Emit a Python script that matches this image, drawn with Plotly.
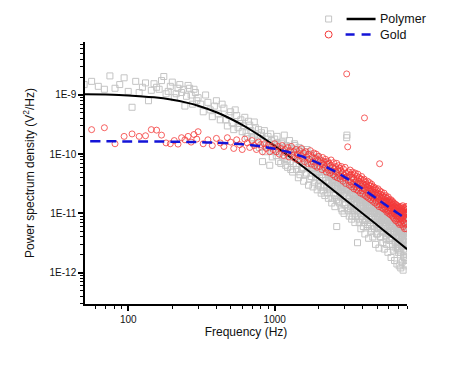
import plotly.graph_objects as go

PV2 = 1e-12  # values below are in pV^2/Hz (1e-12 V^2/Hz)

# shared FFT frequency bins (Hz)
frequency_hz = [
    50, 56.25, 68.75, 81.25, 93.75, 106.25, 118.75, 131.25, 143.75, 156.25, 168.75,
    181.25, 193.75, 206.25, 218.75, 231.25, 243.75, 256.25, 268.75, 281.25, 293.75,
    300, 325, 350, 375, 400, 425, 450, 475, 500, 525, 550, 575, 600, 625, 650, 675,
    700, 725, 750, 775, 800, 825, 850, 875, 900, 925, 950, 975,
    1000, 1025, 1050, 1075, 1100, 1125, 1150, 1175, 1200, 1225, 1250, 1275,
    1300, 1325, 1350, 1375, 1400, 1425, 1450, 1475, 1500, 1525, 1550, 1575,
    1600, 1625, 1650, 1675, 1700, 1725, 1750, 1775, 1800, 1825, 1850, 1875,
    1900, 1925, 1950, 1975, 2000, 2025, 2050, 2075, 2100, 2125, 2150, 2175,
    2200, 2225, 2250, 2275, 2300, 2325, 2350, 2375, 2400, 2425, 2450, 2475,
    2500, 2525, 2550, 2575, 2600, 2625, 2650, 2675, 2700, 2725, 2750, 2775,
    2800, 2825, 2850, 2875, 2900, 2925, 2950, 2975, 3000, 3025, 3050, 3075,
    3100, 3125, 3150, 3175, 3200, 3225, 3250, 3275, 3300, 3325, 3350, 3375,
    3400, 3425, 3450, 3475, 3500, 3525, 3550, 3575, 3600, 3625, 3650, 3675,
    3700, 3725, 3750, 3775, 3800, 3825, 3850, 3875, 3900, 3925, 3950, 3975,
    4000, 4025, 4050, 4075, 4100, 4125, 4150, 4175, 4200, 4225, 4250, 4275,
    4300, 4325, 4350, 4375, 4400, 4425, 4450, 4475, 4500, 4525, 4550, 4575,
    4600, 4625, 4650, 4675, 4700, 4725, 4750, 4775, 4800, 4825, 4850, 4875,
    4900, 4925, 4950, 4975, 5000, 5025, 5050, 5075, 5100, 5125, 5150, 5175,
    5200, 5225, 5250, 5275, 5300, 5325, 5350, 5375, 5400, 5425, 5450, 5475,
    5500, 5525, 5550, 5575, 5600, 5625, 5650, 5675, 5700, 5725, 5750, 5775,
    5800, 5825, 5850, 5875, 5900, 5925, 5950, 5975, 6000, 6025, 6050, 6075,
    6100, 6125, 6150, 6175, 6200, 6225, 6250, 6275, 6300, 6325, 6350, 6375,
    6400, 6425, 6450, 6475, 6500, 6525, 6550, 6575, 6600, 6625, 6650, 6675,
    6700, 6725, 6750, 6775, 6800, 6825, 6850, 6875, 6900, 6925, 6950, 6975,
    7000, 7025, 7050, 7075, 7100, 7125, 7150, 7175, 7200, 7225, 7250, 7275,
    7300, 7325, 7350, 7375, 7400, 7425, 7450, 7475, 7500, 7525, 7550, 7575,
    7600, 7625, 7650, 7675, 7700, 7725, 7750, 7775, 7800, 7825, 7850, 7875,
    7900, 7925, 7950, 7975, 8000,
]

polymer_psd = [
    1500, 1700, 1250, 1300, 1950, 620, 1100, 1600, 1200, 1350, 1750,
    1050, 1400, 900, 1300, 1100, 650, 1450, 1000, 1250, 800,
    900, 520, 750, 430, 800, 380, 600, 300, 520, 260, 450, 330, 240, 420, 200, 310,
    180, 350, 150, 260, 210, 75, 250, 140, 200, 65, 170, 115,
    180, 95, 150, 110, 70, 160, 120, 85, 140, 60, 110, 75,
    125, 50, 95, 140, 65, 105, 40, 85, 120, 55, 90, 35,
    75, 110, 48, 80, 30, 65, 95, 42, 70, 28, 58, 88,
    40, 62, 25, 50, 80, 36, 55, 22, 45, 70, 30, 52,
    20, 40, 62, 28, 48, 18, 35, 55, 25, 42, 15, 33,
    50, 22, 38, 13, 30, 46, 6, 26, 40, 16, 28, 44,
    19, 34, 12, 25, 38, 15, 29, 10, 22, 35, 14, 26,
    190, 12, 30, 18, 24, 9, 20, 32, 13, 22, 8, 17,
    28, 11, 19, 30, 14, 7, 21, 12, 26, 16, 9, 3.2,
    18, 11, 24, 7, 15, 21, 10, 5.5, 17, 12, 23, 8,
    14, 6, 19, 10, 22, 4.5, 13, 18, 8, 15, 11, 20,
    6, 12, 17, 3.8, 9, 14, 19, 7, 11, 16, 5, 13,
    8.5, 18, 10, 4, 14, 7, 12, 17, 5.5, 10, 15, 3,
    8, 13, 6.5, 11, 16, 4.5, 9, 14, 7, 12, 2.6, 10,
    15, 6, 8.5, 13, 4, 11, 7.5, 16, 5, 9.5, 12, 3.2,
    7, 14, 5.5, 10, 2.5, 8, 12, 6, 9, 4.2, 13, 7,
    3, 10, 5.5, 11.5, 7.5, 2.2, 9, 12.5, 4.5, 8, 6, 11,
    3.5, 7, 13, 5, 9, 1.8, 6.5, 10.5, 4, 8, 12, 3,
    6, 9.5, 2.4, 7, 11, 4.8, 8.5, 1.6, 5.5, 10, 3.4, 7.5,
    12, 2.6, 6, 9, 4.2, 1.4, 7, 10.5, 3.2, 5.8, 8.5, 2.2,
    6.5, 11, 4, 1.3, 7.5, 3, 9.5, 5, 2, 6.8, 1.2, 8.5,
    4.5, 10, 2.8, 6, 1.5, 7.8, 3.6, 9, 5.2, 1.1, 6.5, 2.5,
    8.2, 4, 1.8, 7, 3.2, 9.5, 5, 1.3, 6, 2.4, 8, 3.8,
    1.6, 5.5, 2.8, 7.2, 4.2,
]

# the polymer record also has bins half-way between the shared ones
polymer_extra_hz = [
    62.5, 75, 87.5, 100, 112.5, 125, 137.5, 150, 162.5, 175, 187.5, 200,
    212.5, 225, 237.5, 250, 262.5, 275, 287.5,
    312.5, 337.5, 362.5, 387.5, 412.5, 437.5, 462.5, 487.5, 512.5, 537.5, 562.5, 587.5,
    612.5, 637.5, 662.5, 687.5, 712.5, 737.5, 762.5, 787.5, 812.5, 837.5, 862.5, 887.5,
    912.5, 937.5, 962.5, 987.5,
    1012.5, 1037.5, 1062.5, 1087.5, 1112.5, 1137.5, 1162.5, 1187.5, 1212.5, 1237.5, 1262.5, 1287.5,
    1312.5, 1337.5, 1362.5, 1387.5, 1412.5, 1437.5, 1462.5, 1487.5, 1512.5, 1537.5, 1562.5, 1587.5,
    1612.5, 1637.5, 1662.5, 1687.5, 1712.5, 1737.5, 1762.5, 1787.5, 1812.5, 1837.5, 1862.5, 1887.5,
    1912.5, 1937.5, 1962.5, 1987.5, 2012.5, 2037.5, 2062.5, 2087.5, 2112.5, 2137.5, 2162.5, 2187.5,
    2212.5, 2237.5, 2262.5, 2287.5, 2312.5, 2337.5, 2362.5, 2387.5, 2412.5, 2437.5, 2462.5, 2487.5,
    2512.5, 2537.5, 2562.5, 2587.5, 2612.5, 2637.5, 2662.5, 2687.5, 2712.5, 2737.5, 2762.5, 2787.5,
    2812.5, 2837.5, 2862.5, 2887.5, 2912.5, 2937.5, 2962.5, 2987.5, 3012.5, 3037.5, 3062.5, 3087.5,
    3112.5, 3137.5, 3162.5, 3187.5, 3212.5, 3237.5, 3262.5, 3287.5, 3312.5, 3337.5, 3362.5, 3387.5,
    3412.5, 3437.5, 3462.5, 3487.5, 3512.5, 3537.5, 3562.5, 3587.5, 3612.5, 3637.5, 3662.5, 3687.5,
    3712.5, 3737.5, 3762.5, 3787.5, 3812.5, 3837.5, 3862.5, 3887.5, 3912.5, 3937.5, 3962.5, 3987.5,
    4012.5, 4037.5, 4062.5, 4087.5, 4112.5, 4137.5, 4162.5, 4187.5, 4212.5, 4237.5, 4262.5, 4287.5,
    4312.5, 4337.5, 4362.5, 4387.5, 4412.5, 4437.5, 4462.5, 4487.5, 4512.5, 4537.5, 4562.5, 4587.5,
    4612.5, 4637.5, 4662.5, 4687.5, 4712.5, 4737.5, 4762.5, 4787.5, 4812.5, 4837.5, 4862.5, 4887.5,
    4912.5, 4937.5, 4962.5, 4987.5, 5012.5, 5037.5, 5062.5, 5087.5, 5112.5, 5137.5, 5162.5, 5187.5,
    5212.5, 5237.5, 5262.5, 5287.5, 5312.5, 5337.5, 5362.5, 5387.5, 5412.5, 5437.5, 5462.5, 5487.5,
    5512.5, 5537.5, 5562.5, 5587.5, 5612.5, 5637.5, 5662.5, 5687.5, 5712.5, 5737.5, 5762.5, 5787.5,
    5812.5, 5837.5, 5862.5, 5887.5, 5912.5, 5937.5, 5962.5, 5987.5, 6012.5, 6037.5, 6062.5, 6087.5,
    6112.5, 6137.5, 6162.5, 6187.5, 6212.5, 6237.5, 6262.5, 6287.5, 6312.5, 6337.5, 6362.5, 6387.5,
    6412.5, 6437.5, 6462.5, 6487.5, 6512.5, 6537.5, 6562.5, 6587.5, 6612.5, 6637.5, 6662.5, 6687.5,
    6712.5, 6737.5, 6762.5, 6787.5, 6812.5, 6837.5, 6862.5, 6887.5, 6912.5, 6937.5, 6962.5, 6987.5,
    7012.5, 7037.5, 7062.5, 7087.5, 7112.5, 7137.5, 7162.5, 7187.5, 7212.5, 7237.5, 7262.5, 7287.5,
    7312.5, 7337.5, 7362.5, 7387.5, 7412.5, 7437.5, 7462.5, 7487.5, 7512.5, 7537.5, 7562.5, 7587.5,
    7612.5, 7637.5, 7662.5, 7687.5, 7712.5, 7737.5, 7762.5, 7787.5, 7812.5, 7837.5, 7862.5, 7887.5,
    7912.5, 7937.5, 7962.5, 7987.5,
]

polymer_extra_psd = [
    1400, 2100, 1500, 1150, 1700, 1350, 800, 1550, 1250, 2050, 1150, 1650,
    1050, 1500, 1250, 950, 1300, 700, 1100,
    700, 1000, 560, 650, 480, 700, 380, 450, 340, 560, 280, 380,
    300, 230, 360, 250, 190, 280, 210, 130, 230, 160, 110, 180,
    130, 220, 90, 150,
    110, 200, 75, 130, 150, 90, 210, 65, 80, 125, 170, 55,
    105, 70, 150, 90, 55, 95, 130, 45, 80, 110, 60, 100,
    45, 85, 120, 65, 75, 38, 100, 58, 60, 82, 33, 52,
    70, 45, 90, 30, 50, 65, 28, 75, 40, 24, 58, 68,
    55, 36, 72, 22, 33, 60, 26, 45, 52, 30, 18, 40,
    36, 58, 27, 20, 44, 17, 33, 52, 25, 48, 15, 36,
    42, 23, 30, 11, 27, 45, 20, 33, 14, 38, 24, 30,
    210, 26, 40, 11, 35, 19, 27, 12, 25, 38, 16, 9,
    22, 33, 14, 27, 18, 9, 30, 21, 32, 15, 24, 11,
    20, 29, 8, 17, 26, 13, 31, 19, 9, 22, 16, 28,
    20, 12, 26, 7, 17, 25, 11, 15, 24, 9, 19, 13,
    6.5, 16, 22, 11, 20, 13, 8, 24, 10, 18, 14, 5.5,
    21, 9, 16, 12, 6, 15, 20, 10, 17, 8, 13, 22,
    11, 19, 4.5, 14, 9, 17, 12, 20, 5.5, 13, 18, 8,
    15, 10, 4, 17, 12, 19, 8, 14, 6.5, 11, 16, 9,
    13, 4.8, 17, 10, 8, 14, 11, 6, 15, 9, 3.6, 12,
    7, 13, 10, 16, 5, 11, 8.5, 14, 12, 6.5, 15, 9,
    3.8, 10, 13, 7, 11.5, 5.5, 8, 14, 6, 12, 2.8, 9.5,
    13, 7.5, 10, 4.5, 8, 12.5, 5, 9, 11, 3.2, 7, 13,
    6.5, 9.5, 4, 11.5, 8.5, 12, 5.5, 2.6, 10, 6, 11.5, 4.2,
    7, 2.4, 9, 5.5, 11, 6.5, 3.8, 8, 5, 9.5, 2.2, 7,
    10.5, 4.2, 7.5, 5.8, 2.9, 8.5, 6, 10, 4.5, 7, 1.9, 9,
    6.5, 3.4, 10, 5, 8, 1.7, 5.5, 9.5, 3.6, 7.5, 4.8, 2.3,
    8.8, 5.2, 1.4, 6.8,
]

gold_psd = [
    None, 260, 280, 150, 200, 220, 200, 205, 260, 255, 210,
    155, 150, 170, 148, 190, 175, 200, 160, 215, 180,
    240, 150, 175, 140, 185, 155, 135, 190, 160, 125, 175, 145, 120, 180, 155, 130,
    170, 140, 120, 160, 145, 110, 150, 125, 140, 110, 135, 120,
    150, 110, 135, 100, 125, 140, 95, 120, 105, 130, 90, 115,
    135, 95, 110, 85, 120, 100, 80, 115, 95, 125, 85, 105,
    75, 110, 90, 70, 100, 82, 115, 68, 90, 75, 105, 64,
    85, 100, 60, 78, 92, 62, 80, 70, 55, 88, 66, 75,
    58, 82, 50, 68, 76, 54, 70, 48, 64, 80, 52, 60,
    45, 72, 56, 42, 62, 50, 70, 40, 55, 64, 44, 58,
    38, 52, 62, 42, 48, 35, 56, 44, 40, 60, 32, 48,
    2270, 42, 133, 36, 50, 30, 44, 54, 34, 46, 28, 40,
    50, 31, 38, 26, 45, 33, 48, 28, 36, 25, 42, 31,
    46, 24, 35, 40, 27, 33, 22, 38, 29, 42, 24, 32,
    21, 36, 27, 38, 410, 30, 20, 34, 25, 31, 19, 28,
    35, 22, 27, 18, 30, 24, 33, 20, 26, 17, 29, 22,
    31, 19, 25, 16, 23, 28, 18, 26, 21, 15, 27, 19,
    23, 16, 25, 20, 14, 22, 18, 26, 16, 21, 13, 19,
    69, 24, 17, 14, 21, 16, 23, 12.5, 18, 14, 20, 15,
    12, 19, 16, 22, 13, 17, 11.5, 19, 15, 20, 12, 16,
    14, 10.5, 18, 13, 15.5, 11, 19, 13.5, 10, 16, 12.5, 17,
    11, 14.5, 9.5, 15, 12, 17, 10, 13.5, 15.5, 9, 12.5, 16,
    10.5, 14, 8.5, 12, 15, 10, 13, 8, 11.5, 14.5, 9.5, 12.5,
    7.5, 11, 14, 9, 12.5, 8, 10.5, 13.5, 9, 11.5, 7, 12.5,
    10, 13, 8, 11, 6.5, 9.5, 12.5, 8.5, 11, 7, 10, 13,
    8, 10.5, 6.5, 12, 9, 11, 7.5, 13.5, 8.5, 10.5, 6, 11.5,
    9, 12.5, 7, 10, 5.5, 9.5, 12, 8, 10.5, 6.5, 13, 8.5,
    10, 5.5, 11.5, 8.5, 13,
]

# fitted curves
polymer_fit_hz = [50, 70, 100, 150, 200, 250, 300, 400, 500, 600, 700, 800,
                  1000, 1200, 1500, 2000, 2500, 3000, 4000, 5000, 6000, 7000, 8000]
polymer_fit_psd = [1033, 1017, 985, 915, 831, 744, 660, 512, 397, 312, 249, 201.5,
                   138.6, 100.3, 66.5, 38.5, 24.9, 17.4, 9.89, 6.35, 4.42, 3.25, 2.49]
gold_fit_hz = [55, 100, 200, 300, 400, 500, 600, 700, 800, 1000, 1200, 1500,
               2000, 2500, 3000, 4000, 5000, 6000, 7000, 7700]
gold_fit_psd = [165, 164.5, 162.8, 160, 156.3, 152.1, 147, 141.5, 135.7, 123.3, 111, 93.7,
                70.2, 53.2, 41.1, 25.8, 17.6, 12.8, 9.9, 8.4]

y_tick_vals = [1e-12, 1e-11, 1e-10, 1e-9]
y_tick_text = ["1E-12", "1E-11", "1E-10", "1E-9"]
y_minor_vals = [m * 10.0 ** e for e in (-13, -12, -11, -10, -9) for m in range(2, 10)]
x_tick_vals = [100, 1000]
x_tick_text = ["100", "1000"]
x_minor_vals = [m * 10 ** e for e in (1, 2, 3) for m in range(2, 10)]

assert len(frequency_hz) == len(polymer_psd) == len(gold_psd), (
    len(frequency_hz), len(polymer_psd), len(gold_psd))
assert len(polymer_extra_hz) == len(polymer_extra_psd), (
    len(polymer_extra_hz), len(polymer_extra_psd))

def scale(vals):
    return [None if v is None else v * PV2 for v in vals]

FONT = "Liberation Sans, Arial, sans-serif"
GRAY = "rgb(196,196,196)"
RED = "rgb(244,56,56)"
BLUE = "rgb(20,20,215)"

fig = go.Figure()
fig.add_trace(go.Scatter(x=frequency_hz + polymer_extra_hz,
                         y=scale(polymer_psd + polymer_extra_psd), mode="markers",
                         marker=dict(symbol="square-open", size=6, color=GRAY,
                                     line=dict(width=1, color=GRAY)),
                         showlegend=False))
fig.add_trace(go.Scatter(x=polymer_fit_hz, y=scale(polymer_fit_psd), mode="lines",
                         line=dict(color="black", width=2, shape="spline", smoothing=0.6),
                         showlegend=False))
fig.add_trace(go.Scatter(x=frequency_hz, y=scale(gold_psd), mode="markers",
                         marker=dict(symbol="circle-open", size=6, color=RED,
                                     line=dict(width=0.8, color=RED)),
                         showlegend=False))
fig.add_trace(go.Scatter(x=gold_fit_hz, y=scale(gold_fit_psd), mode="lines",
                         line=dict(color=BLUE, width=2.5, dash="10px,6px",
                                   shape="spline", smoothing=0.6),
                         showlegend=False))

# the page body adds an 8 px offset; the figure is sized so the page matches
W, H = 466, 357
OFF = 8
# plot-area edges in window pixels
L, R, T, B = 85, 407.5, 42, 304
def px(x):
    return (x - L) / (R - L)
def py(y):
    return (B - y) / (B - T)

shapes = [
    dict(type="rect", xref="paper", yref="paper", x0=px(326), x1=px(332),
         y0=py(22), y1=py(16), line=dict(color=GRAY, width=1)),
    dict(type="line", xref="paper", yref="paper", x0=px(347), x1=px(376),
         y0=py(19), y1=py(19), line=dict(color="black", width=2.5)),
    dict(type="circle", xref="paper", yref="paper", x0=px(325.5), x1=px(332.5),
         y0=py(38), y1=py(31), line=dict(color=RED, width=1)),
    dict(type="line", xref="paper", yref="paper", x0=px(346), x1=px(373),
         y0=py(34.5), y1=py(34.5), line=dict(color=BLUE, width=2.5, dash="9px,7px")),
]
annotations = [
    dict(text="Polymer", xref="paper", yref="paper", x=px(378.5), y=py(19),
         xanchor="left", yanchor="middle", showarrow=False,
         font=dict(family=FONT, size=12.5, color="#111")),
    dict(text="Gold", xref="paper", yref="paper", x=px(378.5), y=py(34.5),
         xanchor="left", yanchor="middle", showarrow=False,
         font=dict(family=FONT, size=12.5, color="#111")),
]

axis_common = dict(showline=True, linecolor="black", linewidth=1.5, ticks="outside",
                   ticklen=5, tickwidth=1.5, tickcolor="black", showgrid=False,
                   zeroline=False, tickfont=dict(family=FONT, size=10, color="#111"))

fig.update_layout(
    width=W, height=H,
    margin=dict(l=L - OFF, r=W - (R - OFF), t=T - OFF, b=H - (B - OFF), autoexpand=False),
    paper_bgcolor="white", plot_bgcolor="white",
    shapes=shapes, annotations=annotations,
    xaxis=dict(type="log", range=[1.705, 3.903], tickmode="array",
               tickvals=x_tick_vals, ticktext=x_tick_text,
               minor=dict(ticks="outside", ticklen=3, tickwidth=1, tickcolor="black",
                          tickmode="array", tickvals=x_minor_vals, showgrid=False),
               title=dict(text="Frequency (Hz)", standoff=4,
                          font=dict(family=FONT, size=12, color="#111")),
               **axis_common),
    yaxis=dict(type="log", range=[-12.53, -8.105], tickmode="array",
               tickvals=y_tick_vals, ticktext=y_tick_text,
               minor=dict(ticks="outside", ticklen=3, tickwidth=1, tickcolor="black",
                          tickmode="array", tickvals=y_minor_vals, showgrid=False),
               title=dict(text="Power spectrum density (V<sup>2</sup>/Hz)", standoff=12,
                          font=dict(family=FONT, size=12, color="#111")),
               **axis_common),
)

fig.write_html("out.html")
